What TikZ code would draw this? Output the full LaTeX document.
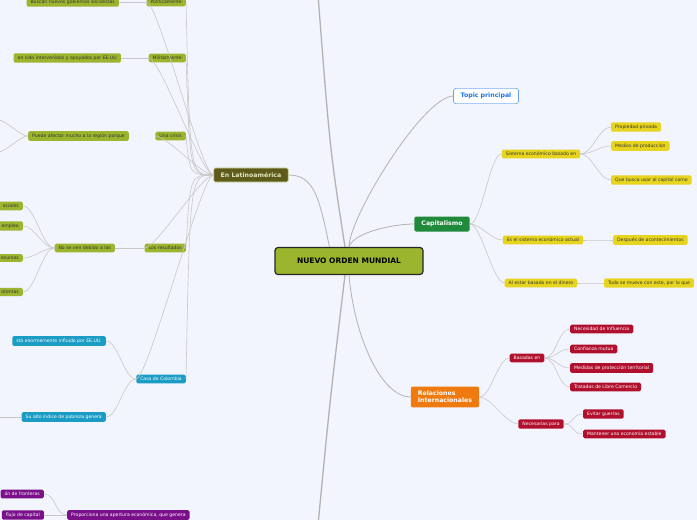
\documentclass[tikz,border=0pt]{standalone}
\usepackage{fontspec}
\setmainfont{DejaVu Sans}
\definecolor{bg}{HTML}{F2F5FD}
\definecolor{olive}{HTML}{9BB52E}
\definecolor{lbrown}{HTML}{5E5A1A}
\definecolor{cgreen}{HTML}{1E8A3A}
\definecolor{cyell}{HTML}{E6D41F}
\definecolor{corange}{HTML}{EE7A10}
\definecolor{cred}{HTML}{B0102E}
\definecolor{cblue}{HTML}{1A9CC4}
\definecolor{cpurp}{HTML}{7A0F8A}
\definecolor{tblue}{HTML}{1A73E8}
\tikzset{
  box/.style={rounded corners=1.5pt,inner xsep=4pt,inner ysep=2.5pt,font=\fontsize{4.6}{5.5}\selectfont},
  main/.style={box,font=\fontsize{6.2}{7}\selectfont\bfseries,text=white,inner xsep=7pt,inner ysep=4.5pt},
  yel/.style={box,fill=cyell,text=black!80},
  oli/.style={box,fill=olive,text=black!80},
  red/.style={box,fill=cred,text=white},
  blu/.style={box,fill=cblue,text=white},
  pur/.style={box,fill=cpurp,text=white},
  link/.style={draw=black!22,line width=0.6pt},
  trunk/.style={draw=black!30,line width=1.3pt},
}
\newcommand{\lnk}[2]{\draw[link] (#1) .. controls +(12,0) and +(-12,0) .. (#2);}
\begin{document}
\begin{tikzpicture}[x=1pt,y=-1pt]
\fill[bg] (0,0) rectangle (697,520);
\clip (0,0) rectangle (697,520);
\useasboundingbox (0,0) rectangle (697,520);

% trunks
\coordinate (Ttop) at (318,-5);
\coordinate (Tbot) at (318,525);
\draw[trunk] (345,247) .. controls (330,150) .. (Ttop);
\draw[trunk] (345,275) .. controls (330,400) .. (Tbot);

% center
\node[main,fill=olive,draw=black!85,line width=1.2pt,text=black,rounded corners=3pt,minimum width=148pt,minimum height=27pt,font=\fontsize{7.5}{9}\selectfont\bfseries] (root) at (349,261) {NUEVO ORDEN MUNDIAL};

% right side
\node[main,fill=white,draw=tblue,text=tblue,rounded corners=2pt] (topic) at (486,96) {Topic principal};
\node[main,fill=cgreen] (cap) at (442,224) {Capitalismo};
\node[main,fill=corange,align=left,rounded corners=2pt] (rel) at (445,397) {Relaciones\\Internacionales};

\node[yel] (sis) at (541,154) {Sistema económico basado en};
\node[yel,anchor=west] (pro) at (611,127) {Propiedad privada};
\node[yel,anchor=west] (med) at (611,146) {Medios de producción};
\node[yel,anchor=west] (que) at (611,180) {Que busca usar al capital como};
\node[yel] (act) at (543,240) {Es el sistema económico actual};
\node[yel,anchor=west] (des) at (613,240) {Después de acontecimientos};
\node[yel] (din) at (541,283) {Al estar basado en el dinero};
\node[yel,anchor=west] (tod) at (604,283) {Todo se mueve con este, por lo que};

\node[red] (bas) at (527,358) {Basadas en};
\node[red,anchor=west] (nec) at (570,329) {Necesidad de Influencia};
\node[red,anchor=west] (con) at (570,349) {Confianza mutua};
\node[red,anchor=west] (mde) at (570,368) {Medidas de protección territorial};
\node[red,anchor=west] (tra) at (570,387) {Tratados de Libre Comercio};
\node[red] (nep) at (541,424) {Necesarias para};
\node[red,anchor=west] (evi) at (583,414) {Evitar guerras};
\node[red,anchor=west] (man) at (583,434) {Mantener una economía estable};

% left side
\node[main,fill=lbrown,text=olive!30,draw=olive!40,line width=0.6pt] (lat) at (251,175) {En Latinoamérica};
\node[oli,anchor=east] (pol) at (186,2) {Políticamente};
\node[oli,anchor=east] (bus) at (119,2) {Buscan nuevos gobiernos socialistas};
\node[oli,anchor=east] (mil) at (186,58) {Militarmente};
\node[oli,anchor=east] (han) at (121,58) {an sido intervenidos y apoyados por EE.UU};
\node[oli,anchor=east] (cri) at (186,136) {Una crisis};
\node[oli,anchor=east] (pue) at (129,136) {Puede afectar mucho a la región porque};
\node[oli,anchor=east] (res) at (186,248) {Los resultados};
\node[oli,anchor=east] (nos) at (115,248) {No se ven debido a las};
\node[oli,anchor=east] (soc) at (23,206) {ociales};
\node[oli,anchor=east] (emp) at (23,226) {empleo};
\node[oli,anchor=east] (rec) at (23,258) {ecursos};
\node[oli,anchor=east] (pot) at (23,292) {otentas};
\node[blu,anchor=east] (col) at (186,379) {Caso de Colombia};
\node[blu,anchor=east] (inf) at (106,341) {stá enormemente influido por EE.UU.};
\node[blu,anchor=east] (pob) at (106,417) {Su alto índice de pobreza genera};
\node[pur,anchor=west] (apo) at (67,515) {Proporciona una apertura económica, que genera};
\node[pur,anchor=east] (fro) at (44,494) {ón de fronteras};
\node[pur,anchor=east] (flu) at (44,515) {flujo de capital};

% free ends off the page
\coordinate (p1) at (-2,120);
\coordinate (p2) at (-2,152);
\coordinate (s1) at (-2,417);
\coordinate (a1) at (-2,520);

% links
\draw[trunk,line width=0.8pt] (root.north) .. controls +(0,-30) and +(-30,0) .. (topic.west);
\draw[trunk,line width=0.8pt] (root.north) .. controls +(5,-15) and +(-20,0) .. (cap.west);
\draw[trunk,line width=0.8pt] (root.south) .. controls +(5,60) and +(-30,0) .. (rel.west);
\draw[trunk,line width=0.8pt] (root.north west) ++(55,0) .. controls +(-10,-50) and +(25,0) .. (lat.east);
\lnk{cap.east}{sis.west} \lnk{cap.east}{act.west} \lnk{cap.east}{din.west}
\lnk{sis.east}{pro.west} \lnk{sis.east}{med.west} \lnk{sis.east}{que.west}
\lnk{act.east}{des.west} \lnk{din.east}{tod.west}
\lnk{rel.east}{bas.west} \lnk{rel.east}{nep.west}
\lnk{bas.east}{nec.west} \lnk{bas.east}{con.west} \lnk{bas.east}{mde.west} \lnk{bas.east}{tra.west}
\lnk{nep.east}{evi.west} \lnk{nep.east}{man.west}
\lnk{pol.west}{lat.west} \lnk{mil.west}{lat.west} \lnk{cri.west}{lat.west}
\lnk{res.west}{lat.west} \lnk{col.west}{lat.west}
\draw[link] (lat.west) .. controls (190,175) .. (pol.east);
\draw[link] (lat.west) .. controls (190,175) .. (mil.east);
\draw[link] (lat.west) .. controls (190,175) .. (cri.east);
\draw[link] (lat.west) .. controls (190,175) .. (res.east);
\draw[link] (lat.west) .. controls (190,175) .. (col.east);
\draw[link] (pol.west) -- (bus.east);
\draw[link] (mil.west) -- (han.east);
\draw[link] (pue.west) .. controls +(-8,0) and +(8,0) .. (p1);
\draw[link] (pue.west) .. controls +(-8,0) and +(8,0) .. (p2);
\draw[link] (res.west) -- (nos.east);
\foreach \c in {soc,emp,rec,pot}
  \draw[link] (nos.west) .. controls +(-12,0) and +(12,0) .. (\c.east);
\draw[link] (col.west) .. controls +(-12,0) and +(12,0) .. (inf.east);
\draw[link] (col.west) .. controls +(-12,0) and +(12,0) .. (pob.east);
\draw[link] (pob.west) -- (s1);
\draw[link] (apo.west) .. controls +(-12,0) and +(12,0) .. (fro.east);
\draw[link] (apo.west) -- (flu.east);
\end{tikzpicture}
\end{document}
